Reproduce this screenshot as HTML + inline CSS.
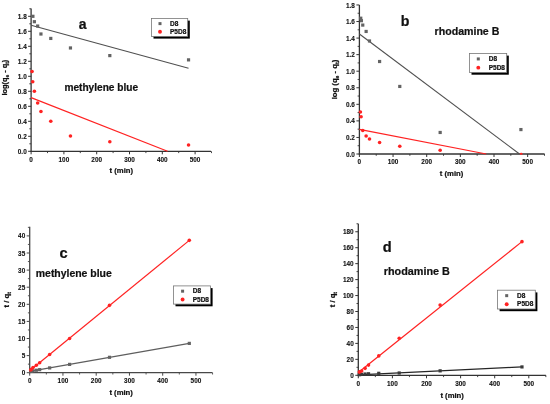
<!DOCTYPE html>
<html><head><meta charset="utf-8"><style>
html,body{margin:0;padding:0;background:#fff;}
svg{display:block;filter:blur(0.3px);}
text{font-family:'Liberation Sans', Arial, sans-serif;font-weight:bold;fill:#111;stroke:#111;stroke-width:0.22px;}
text.tk{stroke-width:0.1px;}
</style></head><body>
<svg width="550" height="404" viewBox="0 0 550 404">
<rect width="550" height="404" fill="#fff"/>
<line x1="31.1" y1="8.5" x2="31.1" y2="151.9" stroke="#333" stroke-width="1.3"/>
<line x1="30.5" y1="151.3" x2="211" y2="151.3" stroke="#333" stroke-width="1.3"/>
<line x1="28.1" y1="151.30" x2="31.1" y2="151.30" stroke="#333" stroke-width="1"/>
<text x="26.70" y="153.90" text-anchor="end" class="tk" font-size="6.4">0.0</text>
<line x1="28.1" y1="136.30" x2="31.1" y2="136.30" stroke="#333" stroke-width="1"/>
<text x="26.70" y="138.90" text-anchor="end" class="tk" font-size="6.4">0.2</text>
<line x1="28.1" y1="121.30" x2="31.1" y2="121.30" stroke="#333" stroke-width="1"/>
<text x="26.70" y="123.90" text-anchor="end" class="tk" font-size="6.4">0.4</text>
<line x1="28.1" y1="106.30" x2="31.1" y2="106.30" stroke="#333" stroke-width="1"/>
<text x="26.70" y="108.90" text-anchor="end" class="tk" font-size="6.4">0.6</text>
<line x1="28.1" y1="91.30" x2="31.1" y2="91.30" stroke="#333" stroke-width="1"/>
<text x="26.70" y="93.90" text-anchor="end" class="tk" font-size="6.4">0.8</text>
<line x1="28.1" y1="76.30" x2="31.1" y2="76.30" stroke="#333" stroke-width="1"/>
<text x="26.70" y="78.90" text-anchor="end" class="tk" font-size="6.4">1.0</text>
<line x1="28.1" y1="61.30" x2="31.1" y2="61.30" stroke="#333" stroke-width="1"/>
<text x="26.70" y="63.90" text-anchor="end" class="tk" font-size="6.4">1.2</text>
<line x1="28.1" y1="46.30" x2="31.1" y2="46.30" stroke="#333" stroke-width="1"/>
<text x="26.70" y="48.90" text-anchor="end" class="tk" font-size="6.4">1.4</text>
<line x1="28.1" y1="31.30" x2="31.1" y2="31.30" stroke="#333" stroke-width="1"/>
<text x="26.70" y="33.90" text-anchor="end" class="tk" font-size="6.4">1.6</text>
<line x1="28.1" y1="16.30" x2="31.1" y2="16.30" stroke="#333" stroke-width="1"/>
<text x="26.70" y="18.90" text-anchor="end" class="tk" font-size="6.4">1.8</text>
<line x1="29.3" y1="143.80" x2="31.1" y2="143.80" stroke="#333" stroke-width="0.9"/>
<line x1="29.3" y1="128.80" x2="31.1" y2="128.80" stroke="#333" stroke-width="0.9"/>
<line x1="29.3" y1="113.80" x2="31.1" y2="113.80" stroke="#333" stroke-width="0.9"/>
<line x1="29.3" y1="98.80" x2="31.1" y2="98.80" stroke="#333" stroke-width="0.9"/>
<line x1="29.3" y1="83.80" x2="31.1" y2="83.80" stroke="#333" stroke-width="0.9"/>
<line x1="29.3" y1="68.80" x2="31.1" y2="68.80" stroke="#333" stroke-width="0.9"/>
<line x1="29.3" y1="53.80" x2="31.1" y2="53.80" stroke="#333" stroke-width="0.9"/>
<line x1="29.3" y1="38.80" x2="31.1" y2="38.80" stroke="#333" stroke-width="0.9"/>
<line x1="29.3" y1="23.80" x2="31.1" y2="23.80" stroke="#333" stroke-width="0.9"/>
<line x1="29.3" y1="8.80" x2="31.1" y2="8.80" stroke="#333" stroke-width="0.9"/>
<line x1="31.10" y1="151.3" x2="31.10" y2="154.3" stroke="#333" stroke-width="1"/>
<text x="31.10" y="161.90" text-anchor="middle" class="tk" font-size="6.4">0</text>
<line x1="63.90" y1="151.3" x2="63.90" y2="154.3" stroke="#333" stroke-width="1"/>
<text x="63.90" y="161.90" text-anchor="middle" class="tk" font-size="6.4">100</text>
<line x1="96.70" y1="151.3" x2="96.70" y2="154.3" stroke="#333" stroke-width="1"/>
<text x="96.70" y="161.90" text-anchor="middle" class="tk" font-size="6.4">200</text>
<line x1="129.50" y1="151.3" x2="129.50" y2="154.3" stroke="#333" stroke-width="1"/>
<text x="129.50" y="161.90" text-anchor="middle" class="tk" font-size="6.4">300</text>
<line x1="162.30" y1="151.3" x2="162.30" y2="154.3" stroke="#333" stroke-width="1"/>
<text x="162.30" y="161.90" text-anchor="middle" class="tk" font-size="6.4">400</text>
<line x1="195.10" y1="151.3" x2="195.10" y2="154.3" stroke="#333" stroke-width="1"/>
<text x="195.10" y="161.90" text-anchor="middle" class="tk" font-size="6.4">500</text>
<line x1="47.50" y1="151.3" x2="47.50" y2="153.10000000000002" stroke="#333" stroke-width="0.9"/>
<line x1="80.30" y1="151.3" x2="80.30" y2="153.10000000000002" stroke="#333" stroke-width="0.9"/>
<line x1="113.10" y1="151.3" x2="113.10" y2="153.10000000000002" stroke="#333" stroke-width="0.9"/>
<line x1="145.90" y1="151.3" x2="145.90" y2="153.10000000000002" stroke="#333" stroke-width="0.9"/>
<line x1="178.70" y1="151.3" x2="178.70" y2="153.10000000000002" stroke="#333" stroke-width="0.9"/>
<line x1="211.50" y1="151.3" x2="211.50" y2="153.10000000000002" stroke="#333" stroke-width="0.9"/>
<polyline points="31.10,25.30 188.54,68.20" fill="none" stroke="#505050" stroke-width="1.1"/>
<polyline points="31.10,97.68 167.55,151.30" fill="none" stroke="#ff2222" stroke-width="1.2"/>
<rect x="31.30" y="14.70" width="3.2" height="3.2" fill="#636363"/>
<rect x="32.78" y="20.10" width="3.2" height="3.2" fill="#636363"/>
<rect x="36.06" y="24.45" width="3.2" height="3.2" fill="#636363"/>
<rect x="39.34" y="32.40" width="3.2" height="3.2" fill="#636363"/>
<rect x="49.18" y="36.83" width="3.2" height="3.2" fill="#636363"/>
<rect x="68.86" y="46.35" width="3.2" height="3.2" fill="#636363"/>
<rect x="108.22" y="54.00" width="3.2" height="3.2" fill="#636363"/>
<rect x="186.94" y="58.27" width="3.2" height="3.2" fill="#636363"/>
<circle cx="32.08" cy="71.43" r="1.8" fill="#ff2222"/>
<circle cx="32.74" cy="81.78" r="1.8" fill="#ff2222"/>
<circle cx="34.38" cy="91.30" r="1.8" fill="#ff2222"/>
<circle cx="37.66" cy="102.93" r="1.8" fill="#ff2222"/>
<circle cx="40.94" cy="111.55" r="1.8" fill="#ff2222"/>
<circle cx="50.78" cy="121.30" r="1.8" fill="#ff2222"/>
<circle cx="70.46" cy="135.93" r="1.8" fill="#ff2222"/>
<circle cx="109.82" cy="141.78" r="1.8" fill="#ff2222"/>
<circle cx="188.54" cy="144.93" r="1.8" fill="#ff2222"/>
<rect x="153.5" y="20.599999999999998" width="36.3" height="18" fill="#000"/>
<rect x="151.4" y="18.4" width="36.3" height="18" fill="#fff" stroke="#777" stroke-width="0.8"/>
<rect x="158.50" y="22.12" width="3.0" height="3.0" fill="#636363"/>
<circle cx="160.00" cy="31.81" r="1.95" fill="#ff2222"/>
<text x="170.00" y="25.69" font-size="6.5">D8</text>
<text x="170.00" y="34.06" font-size="6.5">P5D8</text>
<text x="109.6" y="173.4" font-size="7.7">t (min)</text>
<text transform="translate(7.0,77.6) rotate(-90)" text-anchor="middle" font-size="7.3">log(q<tspan font-size="68%" baseline-shift="-32%">e</tspan> - q<tspan font-size="68%" baseline-shift="-32%">t</tspan>)</text>
<text x="78.8" y="29.2" font-size="14.0">a</text>
<text x="64.4" y="90.6" font-size="10.15">methylene blue</text>
<line x1="359.4" y1="5" x2="359.4" y2="154.6" stroke="#333" stroke-width="1.3"/>
<line x1="358.79999999999995" y1="154.0" x2="544.6" y2="154.0" stroke="#333" stroke-width="1.3"/>
<line x1="356.4" y1="154.00" x2="359.4" y2="154.00" stroke="#333" stroke-width="1"/>
<text x="354.90" y="156.60" text-anchor="end" class="tk" font-size="6.4">0.0</text>
<line x1="356.4" y1="137.44" x2="359.4" y2="137.44" stroke="#333" stroke-width="1"/>
<text x="354.90" y="140.04" text-anchor="end" class="tk" font-size="6.4">0.2</text>
<line x1="356.4" y1="120.88" x2="359.4" y2="120.88" stroke="#333" stroke-width="1"/>
<text x="354.90" y="123.48" text-anchor="end" class="tk" font-size="6.4">0.4</text>
<line x1="356.4" y1="104.32" x2="359.4" y2="104.32" stroke="#333" stroke-width="1"/>
<text x="354.90" y="106.92" text-anchor="end" class="tk" font-size="6.4">0.6</text>
<line x1="356.4" y1="87.76" x2="359.4" y2="87.76" stroke="#333" stroke-width="1"/>
<text x="354.90" y="90.36" text-anchor="end" class="tk" font-size="6.4">0.8</text>
<line x1="356.4" y1="71.20" x2="359.4" y2="71.20" stroke="#333" stroke-width="1"/>
<text x="354.90" y="73.80" text-anchor="end" class="tk" font-size="6.4">1.0</text>
<line x1="356.4" y1="54.64" x2="359.4" y2="54.64" stroke="#333" stroke-width="1"/>
<text x="354.90" y="57.24" text-anchor="end" class="tk" font-size="6.4">1.2</text>
<line x1="356.4" y1="38.08" x2="359.4" y2="38.08" stroke="#333" stroke-width="1"/>
<text x="354.90" y="40.68" text-anchor="end" class="tk" font-size="6.4">1.4</text>
<line x1="356.4" y1="21.52" x2="359.4" y2="21.52" stroke="#333" stroke-width="1"/>
<text x="354.90" y="24.12" text-anchor="end" class="tk" font-size="6.4">1.6</text>
<line x1="356.4" y1="4.96" x2="359.4" y2="4.96" stroke="#333" stroke-width="1"/>
<text x="354.90" y="7.56" text-anchor="end" class="tk" font-size="6.4">1.8</text>
<line x1="357.59999999999997" y1="145.72" x2="359.4" y2="145.72" stroke="#333" stroke-width="0.9"/>
<line x1="357.59999999999997" y1="129.16" x2="359.4" y2="129.16" stroke="#333" stroke-width="0.9"/>
<line x1="357.59999999999997" y1="112.60" x2="359.4" y2="112.60" stroke="#333" stroke-width="0.9"/>
<line x1="357.59999999999997" y1="96.04" x2="359.4" y2="96.04" stroke="#333" stroke-width="0.9"/>
<line x1="357.59999999999997" y1="79.48" x2="359.4" y2="79.48" stroke="#333" stroke-width="0.9"/>
<line x1="357.59999999999997" y1="62.92" x2="359.4" y2="62.92" stroke="#333" stroke-width="0.9"/>
<line x1="357.59999999999997" y1="46.36" x2="359.4" y2="46.36" stroke="#333" stroke-width="0.9"/>
<line x1="357.59999999999997" y1="29.80" x2="359.4" y2="29.80" stroke="#333" stroke-width="0.9"/>
<line x1="357.59999999999997" y1="13.24" x2="359.4" y2="13.24" stroke="#333" stroke-width="0.9"/>
<line x1="359.40" y1="154.0" x2="359.40" y2="157.0" stroke="#333" stroke-width="1"/>
<text x="359.40" y="163.60" text-anchor="middle" class="tk" font-size="6.4">0</text>
<line x1="393.05" y1="154.0" x2="393.05" y2="157.0" stroke="#333" stroke-width="1"/>
<text x="393.05" y="163.60" text-anchor="middle" class="tk" font-size="6.4">100</text>
<line x1="426.70" y1="154.0" x2="426.70" y2="157.0" stroke="#333" stroke-width="1"/>
<text x="426.70" y="163.60" text-anchor="middle" class="tk" font-size="6.4">200</text>
<line x1="460.35" y1="154.0" x2="460.35" y2="157.0" stroke="#333" stroke-width="1"/>
<text x="460.35" y="163.60" text-anchor="middle" class="tk" font-size="6.4">300</text>
<line x1="494.00" y1="154.0" x2="494.00" y2="157.0" stroke="#333" stroke-width="1"/>
<text x="494.00" y="163.60" text-anchor="middle" class="tk" font-size="6.4">400</text>
<line x1="527.65" y1="154.0" x2="527.65" y2="157.0" stroke="#333" stroke-width="1"/>
<text x="527.65" y="163.60" text-anchor="middle" class="tk" font-size="6.4">500</text>
<line x1="376.22" y1="154.0" x2="376.22" y2="155.8" stroke="#333" stroke-width="0.9"/>
<line x1="409.88" y1="154.0" x2="409.88" y2="155.8" stroke="#333" stroke-width="0.9"/>
<line x1="443.52" y1="154.0" x2="443.52" y2="155.8" stroke="#333" stroke-width="0.9"/>
<line x1="477.17" y1="154.0" x2="477.17" y2="155.8" stroke="#333" stroke-width="0.9"/>
<line x1="510.82" y1="154.0" x2="510.82" y2="155.8" stroke="#333" stroke-width="0.9"/>
<line x1="544.48" y1="154.0" x2="544.48" y2="155.8" stroke="#333" stroke-width="0.9"/>
<polyline points="359.40,33.94 519.51,154.00" fill="none" stroke="#505050" stroke-width="1.1"/>
<polyline points="359.40,129.41 486.26,154.00" fill="none" stroke="#ff2222" stroke-width="1.2"/>
<rect x="359.15" y="16.61" width="3.2" height="3.2" fill="#636363"/>
<rect x="359.82" y="19.09" width="3.2" height="3.2" fill="#636363"/>
<rect x="361.16" y="23.48" width="3.2" height="3.2" fill="#636363"/>
<rect x="364.53" y="29.86" width="3.2" height="3.2" fill="#636363"/>
<rect x="367.89" y="39.38" width="3.2" height="3.2" fill="#636363"/>
<rect x="377.99" y="59.91" width="3.2" height="3.2" fill="#636363"/>
<rect x="398.18" y="84.84" width="3.2" height="3.2" fill="#636363"/>
<rect x="438.56" y="130.87" width="3.2" height="3.2" fill="#636363"/>
<rect x="519.32" y="127.97" width="3.2" height="3.2" fill="#636363"/>
<circle cx="360.41" cy="112.02" r="1.8" fill="#ff2222"/>
<circle cx="361.08" cy="116.74" r="1.8" fill="#ff2222"/>
<circle cx="362.76" cy="130.57" r="1.8" fill="#ff2222"/>
<circle cx="366.13" cy="136.03" r="1.8" fill="#ff2222"/>
<circle cx="369.50" cy="139.01" r="1.8" fill="#ff2222"/>
<circle cx="379.59" cy="142.57" r="1.8" fill="#ff2222"/>
<circle cx="399.78" cy="146.22" r="1.8" fill="#ff2222"/>
<circle cx="440.16" cy="150.19" r="1.8" fill="#ff2222"/>
<ellipse cx="521.2" cy="153.8" rx="1.5" ry="1.05" fill="#ff2222"/>
<rect x="471.5" y="55.6" width="37.3" height="19.1" fill="#000"/>
<rect x="469.4" y="53.4" width="37.3" height="19.1" fill="#fff" stroke="#777" stroke-width="0.8"/>
<rect x="476.80" y="57.44" width="3.0" height="3.0" fill="#636363"/>
<circle cx="478.30" cy="67.63" r="1.95" fill="#ff2222"/>
<text x="488.70" y="61.00" font-size="6.5">D8</text>
<text x="488.70" y="69.88" font-size="6.5">P5D8</text>
<text x="439.8" y="176.3" font-size="7.7">t (min)</text>
<text transform="translate(336.5,79.5) rotate(-90)" text-anchor="middle" font-size="7.7">log (q<tspan font-size="68%" baseline-shift="-32%">e</tspan> - q<tspan font-size="68%" baseline-shift="-32%">t</tspan>)</text>
<text x="400.8" y="25.5" font-size="14.2">b</text>
<text x="434.6" y="34.6" font-size="10.6">rhodamine B</text>
<line x1="29.7" y1="226.8" x2="29.7" y2="373.3" stroke="#484848" stroke-width="1.3"/>
<line x1="29.099999999999998" y1="372.7" x2="212.5" y2="372.7" stroke="#484848" stroke-width="1.3"/>
<line x1="26.7" y1="372.70" x2="29.7" y2="372.70" stroke="#484848" stroke-width="1"/>
<text x="25.20" y="375.20" text-anchor="end" class="tk" font-size="6.4">0</text>
<line x1="26.7" y1="355.60" x2="29.7" y2="355.60" stroke="#484848" stroke-width="1"/>
<text x="25.20" y="358.10" text-anchor="end" class="tk" font-size="6.4">5</text>
<line x1="26.7" y1="338.50" x2="29.7" y2="338.50" stroke="#484848" stroke-width="1"/>
<text x="25.20" y="341.00" text-anchor="end" class="tk" font-size="6.4">10</text>
<line x1="26.7" y1="321.40" x2="29.7" y2="321.40" stroke="#484848" stroke-width="1"/>
<text x="25.20" y="323.90" text-anchor="end" class="tk" font-size="6.4">15</text>
<line x1="26.7" y1="304.30" x2="29.7" y2="304.30" stroke="#484848" stroke-width="1"/>
<text x="25.20" y="306.80" text-anchor="end" class="tk" font-size="6.4">20</text>
<line x1="26.7" y1="287.20" x2="29.7" y2="287.20" stroke="#484848" stroke-width="1"/>
<text x="25.20" y="289.70" text-anchor="end" class="tk" font-size="6.4">25</text>
<line x1="26.7" y1="270.10" x2="29.7" y2="270.10" stroke="#484848" stroke-width="1"/>
<text x="25.20" y="272.60" text-anchor="end" class="tk" font-size="6.4">30</text>
<line x1="26.7" y1="253.00" x2="29.7" y2="253.00" stroke="#484848" stroke-width="1"/>
<text x="25.20" y="255.50" text-anchor="end" class="tk" font-size="6.4">35</text>
<line x1="26.7" y1="235.90" x2="29.7" y2="235.90" stroke="#484848" stroke-width="1"/>
<text x="25.20" y="238.40" text-anchor="end" class="tk" font-size="6.4">40</text>
<line x1="27.9" y1="364.15" x2="29.7" y2="364.15" stroke="#484848" stroke-width="0.9"/>
<line x1="27.9" y1="347.05" x2="29.7" y2="347.05" stroke="#484848" stroke-width="0.9"/>
<line x1="27.9" y1="329.95" x2="29.7" y2="329.95" stroke="#484848" stroke-width="0.9"/>
<line x1="27.9" y1="312.85" x2="29.7" y2="312.85" stroke="#484848" stroke-width="0.9"/>
<line x1="27.9" y1="295.75" x2="29.7" y2="295.75" stroke="#484848" stroke-width="0.9"/>
<line x1="27.9" y1="278.65" x2="29.7" y2="278.65" stroke="#484848" stroke-width="0.9"/>
<line x1="27.9" y1="261.55" x2="29.7" y2="261.55" stroke="#484848" stroke-width="0.9"/>
<line x1="27.9" y1="244.45" x2="29.7" y2="244.45" stroke="#484848" stroke-width="0.9"/>
<line x1="27.9" y1="227.35" x2="29.7" y2="227.35" stroke="#484848" stroke-width="0.9"/>
<line x1="29.70" y1="372.7" x2="29.70" y2="375.7" stroke="#484848" stroke-width="1"/>
<text x="29.70" y="382.80" text-anchor="middle" class="tk" font-size="6.4">0</text>
<line x1="62.95" y1="372.7" x2="62.95" y2="375.7" stroke="#484848" stroke-width="1"/>
<text x="62.95" y="382.80" text-anchor="middle" class="tk" font-size="6.4">100</text>
<line x1="96.20" y1="372.7" x2="96.20" y2="375.7" stroke="#484848" stroke-width="1"/>
<text x="96.20" y="382.80" text-anchor="middle" class="tk" font-size="6.4">200</text>
<line x1="129.45" y1="372.7" x2="129.45" y2="375.7" stroke="#484848" stroke-width="1"/>
<text x="129.45" y="382.80" text-anchor="middle" class="tk" font-size="6.4">300</text>
<line x1="162.70" y1="372.7" x2="162.70" y2="375.7" stroke="#484848" stroke-width="1"/>
<text x="162.70" y="382.80" text-anchor="middle" class="tk" font-size="6.4">400</text>
<line x1="195.95" y1="372.7" x2="195.95" y2="375.7" stroke="#484848" stroke-width="1"/>
<text x="195.95" y="382.80" text-anchor="middle" class="tk" font-size="6.4">500</text>
<line x1="46.33" y1="372.7" x2="46.33" y2="374.5" stroke="#484848" stroke-width="0.9"/>
<line x1="79.58" y1="372.7" x2="79.58" y2="374.5" stroke="#484848" stroke-width="0.9"/>
<line x1="112.83" y1="372.7" x2="112.83" y2="374.5" stroke="#484848" stroke-width="0.9"/>
<line x1="146.07" y1="372.7" x2="146.07" y2="374.5" stroke="#484848" stroke-width="0.9"/>
<line x1="179.32" y1="372.7" x2="179.32" y2="374.5" stroke="#484848" stroke-width="0.9"/>
<line x1="212.57" y1="372.7" x2="212.57" y2="374.5" stroke="#484848" stroke-width="0.9"/>
<polyline points="29.70,371.41 189.30,343.39" fill="none" stroke="#5e5e5e" stroke-width="1.2"/>
<polyline points="29.70,370.82 189.30,240.35" fill="none" stroke="#ff2222" stroke-width="1.2"/>
<rect x="29.10" y="369.63" width="3.2" height="3.2" fill="#636363"/>
<rect x="29.76" y="369.53" width="3.2" height="3.2" fill="#636363"/>
<rect x="31.42" y="369.22" width="3.2" height="3.2" fill="#636363"/>
<rect x="34.75" y="368.64" width="3.2" height="3.2" fill="#636363"/>
<rect x="38.07" y="368.06" width="3.2" height="3.2" fill="#636363"/>
<rect x="48.05" y="366.31" width="3.2" height="3.2" fill="#636363"/>
<rect x="68.00" y="362.79" width="3.2" height="3.2" fill="#636363"/>
<rect x="107.90" y="355.71" width="3.2" height="3.2" fill="#636363"/>
<rect x="187.70" y="341.79" width="3.2" height="3.2" fill="#636363"/>
<circle cx="30.70" cy="369.96" r="1.8" fill="#ff2222"/>
<circle cx="31.36" cy="369.28" r="1.8" fill="#ff2222"/>
<circle cx="33.02" cy="367.57" r="1.8" fill="#ff2222"/>
<circle cx="36.35" cy="365.21" r="1.8" fill="#ff2222"/>
<circle cx="39.67" cy="362.71" r="1.8" fill="#ff2222"/>
<circle cx="49.65" cy="354.51" r="1.8" fill="#ff2222"/>
<circle cx="69.60" cy="338.50" r="1.8" fill="#ff2222"/>
<circle cx="109.50" cy="305.33" r="1.8" fill="#ff2222"/>
<circle cx="189.30" cy="240.35" r="1.8" fill="#ff2222"/>
<rect x="175.5" y="288.09999999999997" width="37.1" height="18.2" fill="#000"/>
<rect x="173.4" y="285.9" width="37.1" height="18.2" fill="#fff" stroke="#777" stroke-width="0.8"/>
<rect x="181.10" y="289.68" width="3.0" height="3.0" fill="#636363"/>
<circle cx="182.60" cy="299.46" r="1.95" fill="#ff2222"/>
<text x="192.70" y="293.25" font-size="6.5">D8</text>
<text x="192.70" y="301.71" font-size="6.5">P5D8</text>
<text x="109.4" y="394.5" font-size="7.7">t (min)</text>
<text transform="translate(9.3,299.8) rotate(-90)" text-anchor="middle" font-size="7.7">t / q<tspan font-size="68%" baseline-shift="-32%">t</tspan></text>
<text x="59.6" y="257.8" font-size="14.6">c</text>
<text x="35.8" y="277.3" font-size="10.45">methylene blue</text>
<line x1="358.3" y1="223.7" x2="358.3" y2="375.90000000000003" stroke="#333" stroke-width="1.3"/>
<line x1="357.7" y1="375.3" x2="545.9" y2="375.3" stroke="#333" stroke-width="1.3"/>
<line x1="355.3" y1="375.30" x2="358.3" y2="375.30" stroke="#333" stroke-width="1"/>
<text x="353.70" y="378.00" text-anchor="end" class="tk" font-size="6.4">0</text>
<line x1="355.3" y1="359.35" x2="358.3" y2="359.35" stroke="#333" stroke-width="1"/>
<text x="353.70" y="362.05" text-anchor="end" class="tk" font-size="6.4">20</text>
<line x1="355.3" y1="343.40" x2="358.3" y2="343.40" stroke="#333" stroke-width="1"/>
<text x="353.70" y="346.10" text-anchor="end" class="tk" font-size="6.4">40</text>
<line x1="355.3" y1="327.45" x2="358.3" y2="327.45" stroke="#333" stroke-width="1"/>
<text x="353.70" y="330.15" text-anchor="end" class="tk" font-size="6.4">60</text>
<line x1="355.3" y1="311.50" x2="358.3" y2="311.50" stroke="#333" stroke-width="1"/>
<text x="353.70" y="314.20" text-anchor="end" class="tk" font-size="6.4">80</text>
<line x1="355.3" y1="295.55" x2="358.3" y2="295.55" stroke="#333" stroke-width="1"/>
<text x="353.70" y="298.25" text-anchor="end" class="tk" font-size="6.4">100</text>
<line x1="355.3" y1="279.60" x2="358.3" y2="279.60" stroke="#333" stroke-width="1"/>
<text x="353.70" y="282.30" text-anchor="end" class="tk" font-size="6.4">120</text>
<line x1="355.3" y1="263.65" x2="358.3" y2="263.65" stroke="#333" stroke-width="1"/>
<text x="353.70" y="266.35" text-anchor="end" class="tk" font-size="6.4">140</text>
<line x1="355.3" y1="247.70" x2="358.3" y2="247.70" stroke="#333" stroke-width="1"/>
<text x="353.70" y="250.40" text-anchor="end" class="tk" font-size="6.4">160</text>
<line x1="355.3" y1="231.75" x2="358.3" y2="231.75" stroke="#333" stroke-width="1"/>
<text x="353.70" y="234.45" text-anchor="end" class="tk" font-size="6.4">180</text>
<line x1="356.5" y1="367.32" x2="358.3" y2="367.32" stroke="#333" stroke-width="0.9"/>
<line x1="356.5" y1="351.38" x2="358.3" y2="351.38" stroke="#333" stroke-width="0.9"/>
<line x1="356.5" y1="335.43" x2="358.3" y2="335.43" stroke="#333" stroke-width="0.9"/>
<line x1="356.5" y1="319.48" x2="358.3" y2="319.48" stroke="#333" stroke-width="0.9"/>
<line x1="356.5" y1="303.52" x2="358.3" y2="303.52" stroke="#333" stroke-width="0.9"/>
<line x1="356.5" y1="287.58" x2="358.3" y2="287.58" stroke="#333" stroke-width="0.9"/>
<line x1="356.5" y1="271.62" x2="358.3" y2="271.62" stroke="#333" stroke-width="0.9"/>
<line x1="356.5" y1="255.68" x2="358.3" y2="255.68" stroke="#333" stroke-width="0.9"/>
<line x1="356.5" y1="239.73" x2="358.3" y2="239.73" stroke="#333" stroke-width="0.9"/>
<line x1="356.5" y1="223.78" x2="358.3" y2="223.78" stroke="#333" stroke-width="0.9"/>
<line x1="358.30" y1="375.3" x2="358.30" y2="378.3" stroke="#333" stroke-width="1"/>
<text x="358.30" y="386.20" text-anchor="middle" class="tk" font-size="6.4">0</text>
<line x1="392.40" y1="375.3" x2="392.40" y2="378.3" stroke="#333" stroke-width="1"/>
<text x="392.40" y="386.20" text-anchor="middle" class="tk" font-size="6.4">100</text>
<line x1="426.50" y1="375.3" x2="426.50" y2="378.3" stroke="#333" stroke-width="1"/>
<text x="426.50" y="386.20" text-anchor="middle" class="tk" font-size="6.4">200</text>
<line x1="460.60" y1="375.3" x2="460.60" y2="378.3" stroke="#333" stroke-width="1"/>
<text x="460.60" y="386.20" text-anchor="middle" class="tk" font-size="6.4">300</text>
<line x1="494.70" y1="375.3" x2="494.70" y2="378.3" stroke="#333" stroke-width="1"/>
<text x="494.70" y="386.20" text-anchor="middle" class="tk" font-size="6.4">400</text>
<line x1="528.80" y1="375.3" x2="528.80" y2="378.3" stroke="#333" stroke-width="1"/>
<text x="528.80" y="386.20" text-anchor="middle" class="tk" font-size="6.4">500</text>
<line x1="375.35" y1="375.3" x2="375.35" y2="377.1" stroke="#333" stroke-width="0.9"/>
<line x1="409.45" y1="375.3" x2="409.45" y2="377.1" stroke="#333" stroke-width="0.9"/>
<line x1="443.55" y1="375.3" x2="443.55" y2="377.1" stroke="#333" stroke-width="0.9"/>
<line x1="477.65" y1="375.3" x2="477.65" y2="377.1" stroke="#333" stroke-width="0.9"/>
<line x1="511.75" y1="375.3" x2="511.75" y2="377.1" stroke="#333" stroke-width="0.9"/>
<line x1="545.85" y1="375.3" x2="545.85" y2="377.1" stroke="#333" stroke-width="0.9"/>
<polyline points="358.30,374.82 521.98,366.93" fill="none" stroke="#262626" stroke-width="1.2"/>
<polyline points="358.30,372.43 521.98,241.64" fill="none" stroke="#ff2222" stroke-width="1.2"/>
<rect x="357.72" y="373.06" width="3.2" height="3.2" fill="#3a3a3a"/>
<rect x="358.40" y="372.90" width="3.2" height="3.2" fill="#3a3a3a"/>
<rect x="360.11" y="372.74" width="3.2" height="3.2" fill="#3a3a3a"/>
<rect x="363.52" y="372.42" width="3.2" height="3.2" fill="#3a3a3a"/>
<rect x="366.93" y="372.18" width="3.2" height="3.2" fill="#3a3a3a"/>
<rect x="377.16" y="371.71" width="3.2" height="3.2" fill="#3a3a3a"/>
<rect x="397.62" y="371.39" width="3.2" height="3.2" fill="#3a3a3a"/>
<rect x="438.54" y="369.23" width="3.2" height="3.2" fill="#3a3a3a"/>
<rect x="520.38" y="365.33" width="3.2" height="3.2" fill="#3a3a3a"/>
<circle cx="359.32" cy="372.11" r="1.8" fill="#ff2222"/>
<circle cx="360.00" cy="371.71" r="1.8" fill="#ff2222"/>
<circle cx="361.71" cy="370.99" r="1.8" fill="#ff2222"/>
<circle cx="365.12" cy="368.36" r="1.8" fill="#ff2222"/>
<circle cx="368.53" cy="365.09" r="1.8" fill="#ff2222"/>
<circle cx="378.76" cy="355.92" r="1.8" fill="#ff2222"/>
<circle cx="399.22" cy="338.22" r="1.8" fill="#ff2222"/>
<circle cx="440.14" cy="305.12" r="1.8" fill="#ff2222"/>
<circle cx="521.98" cy="241.64" r="1.8" fill="#ff2222"/>
<rect x="499.6" y="292.4" width="37.8" height="18.8" fill="#000"/>
<rect x="497.5" y="290.2" width="37.8" height="18.8" fill="#fff" stroke="#777" stroke-width="0.8"/>
<rect x="505.20" y="294.15" width="3.0" height="3.0" fill="#636363"/>
<circle cx="506.70" cy="304.21" r="1.95" fill="#ff2222"/>
<text x="517.10" y="297.71" font-size="6.5">D8</text>
<text x="517.10" y="306.46" font-size="6.5">P5D8</text>
<text x="440.4" y="398.3" font-size="7.7">t (min)</text>
<text transform="translate(334.5,299.6) rotate(-90)" text-anchor="middle" font-size="7.7">t / q<tspan font-size="68%" baseline-shift="-32%">t</tspan></text>
<text x="382.8" y="252.0" font-size="14.6">d</text>
<text x="383.8" y="274.6" font-size="10.8">rhodamine B</text>
</svg></body></html>
